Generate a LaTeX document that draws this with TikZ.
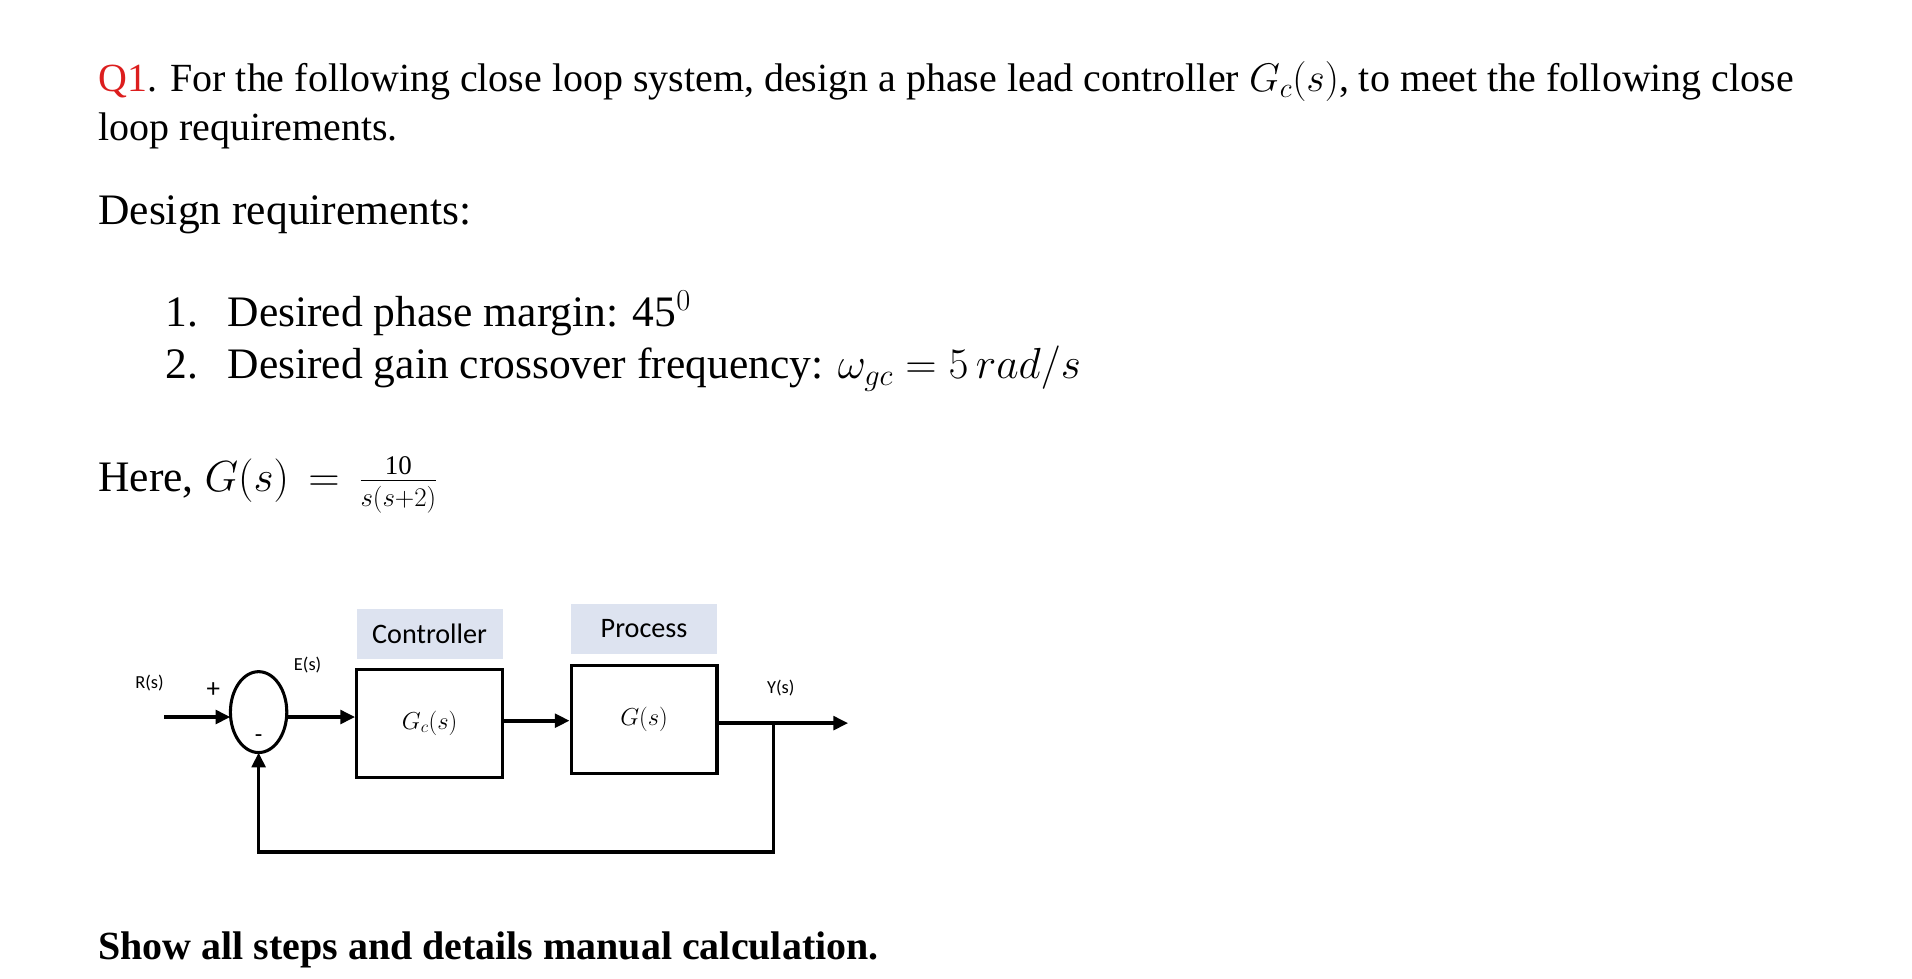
\RequirePackage{fix-cm}
\documentclass[tikz,border=0pt]{standalone}
\usepackage{fontspec}
\setmainfont{Liberation Serif}
\newfontfamily\calib{Carlito}
\usetikzlibrary{arrows.meta}
\definecolor{qred}{RGB}{220,30,30}
\definecolor{lblbg}{RGB}{221,227,240}
\tikzset{
  txt/.style={anchor=base west,inner sep=0pt,font=\fontsize{32.6}{36}\selectfont},
  big/.style={txt,font=\fontsize{35.5}{40}\selectfont},
  blk/.style={draw,line width=2.5pt,minimum width=119pt,minimum height=88pt,inner sep=0pt,font=\calib\fontsize{20}{22}\selectfont},
  lbl/.style={fill=lblbg,minimum width=119pt,minimum height=41pt,inner sep=0pt,font=\calib\fontsize{23}{26}\selectfont},
  sml/.style={inner sep=0pt,font=\calib\fontsize{15}{17}\selectfont},
  sig/.style={line width=3.5pt,-{Triangle[length=12pt,width=11pt]}},
  fb/.style={line width=3pt}
}
\begin{document}
\begin{tikzpicture}[x=1pt,y=-1pt]
\useasboundingbox (0,0) rectangle (1560,798);
\node[txt] (q1) at (80,75) {\textcolor{qred}{Q1}. For the following close loop system, design a phase lead controller $G_c(s)$, to meet the following close};
\node[txt] (q2) at (80,115) {loop requirements.};
\node[big] (dr) at (80,183) {Design requirements:};
\node[big] (i1) at (135,266) {1.\hspace{24pt}Desired phase margin: 45$^{0}$};
\node[big] (i2) at (135,309) {2.\hspace{24pt}Desired gain crossover frequency: $\omega_{gc}=5\,rad/s$};
\node[big] (here) at (80,401) {Here, $G(s)\,=\,\frac{\mbox{\fontsize{22}{24}\selectfont 10}}{\mbox{\fontsize{22}{24}\selectfont $s(s{+}2)$}}$};
\node[txt,font=\bfseries\fontsize{32.6}{36}\selectfont] (show) at (80,783) {Show all steps and details manual calculation.};

\node[lbl] (cl) at (350.5,517) {Controller};
\node[lbl] (pl) at (525.5,513) {Process};
\node[blk] (gc) at (350.5,590) {$G_c(s)$};
\node[blk] (g) at (525.5,587) {$G(s)$};
\draw[line width=2.5pt] (211,581) ellipse (23pt and 33pt);
\coordinate (sumL) at (188,585);
\coordinate (sumR) at (235,585);
\coordinate (sumB) at (211,614);
\coordinate (rin) at (134,585);
\coordinate (tap) at (631,590);
\coordinate (yout) at (692,590);
\coordinate (c1) at (631,695);
\coordinate (c2) at (211,695);
\draw[sig] (rin) -- (sumL);
\draw[sig] (sumR) -- (gc.west |- sumR);
\draw[sig] (gc.east |- 0,588) -- (g.west |- 0,588);
\draw[sig] (g.east |- tap) -- (yout);
\draw[fb,-{Triangle[length=12pt,width=11pt]}] (tap) -- (c1) -- (c2) -- (sumB);
\node[sml] (rs) at (122,557) {R(s)};
\node[inner sep=0pt,font=\calib\fontsize{22}{24}\selectfont] (pl1) at (174,563) {+};
\node[sml] (es) at (251,543) {E(s)};
\node[inner sep=0pt,font=\calib\fontsize{20}{22}\selectfont] (mn) at (211,603) {-};
\node[sml] (ys) at (637,561) {Y(s)};
\end{tikzpicture}
\end{document}
